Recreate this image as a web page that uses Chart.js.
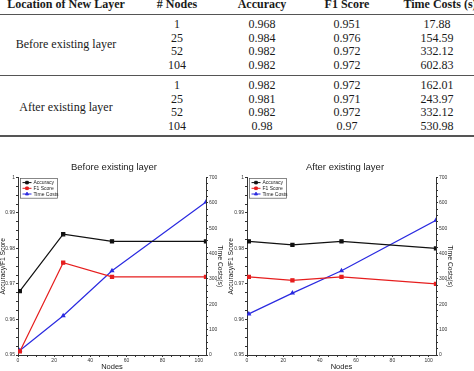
<!DOCTYPE html>
<html>
<head>
<meta charset="utf-8">
<script src="https://cdn.jsdelivr.net/npm/chart.js@4.4.1/dist/chart.umd.min.js"></script>
<style>
  html, body { margin: 0; padding: 0; background: #fff; }
  body { position: relative; width: 474px; height: 371px; overflow: hidden; }
  #table { position: absolute; left: 0; top: 0; width: 474px; height: 140px; font-family: "Liberation Serif", "Times New Roman", serif; font-size: 12px; color: #1a1a1a; }
  .cell { position: absolute; white-space: nowrap; transform: translate(-50%, -50%); line-height: 1; }
  .head { font-weight: bold; }
  .rule { position: absolute; left: 0; width: 474px; background: #555; }
  canvas { position: absolute; top: 158px; }
  #before { left: 0; }
  #after { left: 228px; }
</style>
</head>
<body>
<div id="table"></div>
<canvas id="before" width="228" height="213"></canvas>
<canvas id="after" width="234" height="213"></canvas>
<script>
const nodes = [1, 25, 52, 104]
const beforeAccuracy = [0.968, 0.984, 0.982, 0.982]
const beforeF1 = [0.951, 0.976, 0.972, 0.972]
const beforeTime = [17.88, 154.59, 332.12, 602.83]
const afterAccuracy = [0.982, 0.981, 0.982, 0.98]
const afterF1 = [0.972, 0.971, 0.972, 0.97]
const afterTime = [162.01, 243.97, 332.12, 530.98]

const seriesNames = ["Accuracy", "F1 Score", "Time Costs"]
const groupNames = ["Before existing layer", "After existing layer"]
const tableHeaders = ["Location of New Layer", "# Nodes", "Accuracy", "F1 Score", "Time Costs (s)"]
const axisTitles = { x: "Nodes", left: "Accuracy/F1 Score", right: "Time Costs(s)" }

// ---- table ----
const tableEl = document.getElementById("table")
const colX = [66, 177, 262, 347, 437]

function addCell(text, x, y, extraClass) {
  const el = document.createElement("div")
  el.className = "cell" + (extraClass ? " " + extraClass : "")
  el.style.left = x + "px"
  el.style.top = y + "px"
  el.textContent = text
  tableEl.appendChild(el)
}

function addRule(y, h) {
  const el = document.createElement("div")
  el.className = "rule"
  el.style.top = y + "px"
  el.style.height = h + "px"
  tableEl.appendChild(el)
}

tableHeaders.forEach((h, i) => addCell(h, i === 4 ? 440 : colX[i], 4, "head"))
addRule(13.5, 1.5)
addRule(75, 1)
addRule(135, 2)

const groups = [
  { name: groupNames[0], acc: beforeAccuracy, f1: beforeF1, time: beforeTime, y0: 24, step: 13.5, labelY: 44 },
  { name: groupNames[1], acc: afterAccuracy, f1: afterF1, time: afterTime, y0: 85, step: 13.7, labelY: 107 }
]

groups.forEach((g) => {
  addCell(g.name, colX[0], g.labelY)
  nodes.forEach((n, i) => {
    const y = g.y0 + i * g.step
    addCell(String(n), colX[1], y)
    addCell(String(g.acc[i]), colX[2], y)
    addCell(String(g.f1[i]), colX[3], y)
    addCell(String(g.time[i]), colX[4], y)
  })
})

// ---- charts ----
const sans = "'Liberation Sans', Arial, sans-serif"
const axisColor = "#333"
const colours = ["#111111", "#e61e1e", "#2b2be0"]

// boxed legend inside the top-left corner of the plot, like the original
const boxedLegend = {
  id: "boxedLegend",
  afterDraw(chart) {
    const { ctx, chartArea } = chart
    const left = chartArea.left + 2.5
    const top = chartArea.top + 1.2
    const rowH = 5.7
    const sets = chart.data.datasets

    ctx.save()
    ctx.fillStyle = "#fff"
    ctx.fillRect(left, top, 37, rowH * sets.length + 2.5)
    ctx.strokeStyle = "#555"
    ctx.lineWidth = 0.7
    ctx.strokeRect(left, top, 37, rowH * sets.length + 2.5)

    ctx.font = "5px " + sans
    ctx.textBaseline = "middle"
    sets.forEach((ds, i) => {
      const y = top + 4 + i * rowH
      ctx.strokeStyle = ds.borderColor
      ctx.lineWidth = 1
      ctx.beginPath()
      ctx.moveTo(left + 2, y)
      ctx.lineTo(left + 11, y)
      ctx.stroke()
      ctx.fillStyle = ds.borderColor
      Chart.helpers.drawPoint(ctx, { pointStyle: ds.pointStyle, radius: 1.8, borderWidth: 0.5 }, left + 6.5, y)
      ctx.fillStyle = "#222"
      ctx.fillText(ds.label, left + 13, y + 0.3)
    })
    ctx.restore()
  }
}

function isMultiple(value, step) {
  const r = value / step
  return Math.abs(r - Math.round(r)) < 1e-6
}

function makeChart(canvas, title, acc, f1, time, dims) {
  const toPoints = (values) => nodes.map((n, i) => ({ x: n, y: values[i] }))
  const tickFont = { family: sans, size: 5 }

  return new Chart(canvas, {
    type: "line",
    data: {
      datasets: [
        { label: seriesNames[0], data: toPoints(acc), yAxisID: "y", borderColor: colours[0], backgroundColor: colours[0], pointStyle: "rect", pointRadius: 2.2, borderWidth: 1.2 },
        { label: seriesNames[1], data: toPoints(f1), yAxisID: "y", borderColor: colours[1], backgroundColor: colours[1], pointStyle: "rect", pointRadius: 2.2, borderWidth: 1.2 },
        { label: seriesNames[2], data: toPoints(time), yAxisID: "y1", borderColor: colours[2], backgroundColor: colours[2], pointStyle: "triangle", pointRadius: 1.8, borderWidth: 1.2 }
      ]
    },
    options: {
      responsive: false,
      animation: false,
      layout: { padding: 0 },
      plugins: {
        title: {
          display: true,
          text: title,
          color: "#222",
          font: { family: sans, size: 9.5, weight: "normal" },
          padding: { top: 4, bottom: 4 }
        },
        legend: { display: false },
        tooltip: { enabled: false }
      },
      scales: {
        x: {
          type: "linear",
          min: 0,
          max: 104,
          border: { color: axisColor, width: 1 },
          grid: { drawOnChartArea: false, tickLength: 2, color: axisColor },
          ticks: {
            stepSize: 5,
            includeBounds: false,
            autoSkip: false,
            maxRotation: 0,
            padding: 1,
            color: "#333",
            font: tickFont,
            callback: (v) => (isMultiple(v, 20) ? String(v) : "")
          },
          title: { display: true, text: axisTitles.x, color: "#222", font: { family: sans, size: 7.5 }, padding: { top: 0, bottom: 0 } },
          afterFit: (scale) => { scale.height = 16 }
        },
        y: {
          position: "left",
          min: 0.95,
          max: 1,
          border: { color: axisColor, width: 1 },
          grid: { drawOnChartArea: false, tickLength: 2, color: axisColor },
          ticks: {
            stepSize: 0.0025,
            autoSkip: false,
            padding: 1,
            color: "#333",
            font: tickFont,
            callback: (v) => (isMultiple(v, 0.01) ? String(Math.round(v * 100) / 100) : "")
          },
          title: { display: true, text: axisTitles.left, color: "#222", font: { family: sans, size: 6.7, lineHeight: 1 }, padding: { top: 0, bottom: 0 } },
          afterFit: (scale) => { scale.width = dims.left }
        },
        y1: {
          position: "right",
          min: 0,
          max: 700,
          border: { color: axisColor, width: 1 },
          grid: { drawOnChartArea: false, tickLength: 2, color: axisColor },
          ticks: {
            stepSize: 25,
            autoSkip: false,
            padding: 1,
            color: "#333",
            font: tickFont,
            callback: (v) => (isMultiple(v, 100) ? String(v) : "")
          },
          title: { display: true, text: axisTitles.right, color: "#222", font: { family: sans, size: 6.8, lineHeight: 1 }, padding: { top: dims.rightPad, bottom: 0 } },
          afterFit: (scale) => { scale.width = dims.right }
        }
      }
    },
    plugins: [boxedLegend]
  })
}

makeChart(document.getElementById("before"), groupNames[0], beforeAccuracy, beforeF1, beforeTime, { left: 18, right: 22, rightPad: 4.5 })
makeChart(document.getElementById("after"), groupNames[1], afterAccuracy, afterF1, afterTime, { left: 19, right: 26, rightPad: 8.5 })
</script>
</body>
</html>
